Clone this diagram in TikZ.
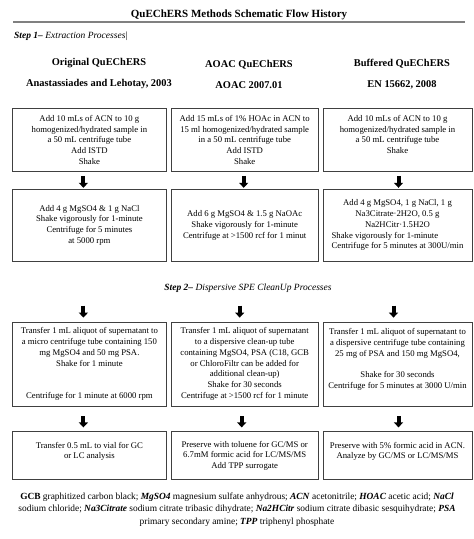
\documentclass[tikz,border=0pt]{standalone}
\usepackage{fontspec}
\setmainfont{Liberation Serif}
\usetikzlibrary{arrows.meta, positioning}

\newcommand{\abbrv}[1]{\textbf{\textit{#1}}}

\begin{document}
\begin{tikzpicture}[
  x=1pt, y=1pt,
  heading/.style={font=\fontsize{11}{13}\selectfont\bfseries},
  colhead/.style={font=\fontsize{10.4}{21}\selectfont\bfseries, align=center},
  steplabel/.style={font=\fontsize{9.5}{11}\selectfont\itshape, inner sep=0pt},
  box/.style={rectangle, draw=black!75, line width=0.8pt, align=center,
              inner xsep=2pt, inner ysep=0pt, font=\fontsize{8.7}{10.8}\selectfont},
  colA/.style={box, minimum width=154pt},
  colB/.style={box, minimum width=147pt},
  colC/.style={box, minimum width=149pt},
  down/.style={-{Triangle[length=5pt,width=9pt]}, line width=4pt, draw=black},
  note/.style={font=\fontsize{9.4}{12.6}\selectfont, align=center},
  node distance=17pt and 4pt
]
  \useasboundingbox (0,0) rectangle (474,-539);

  % title and steps
  \node[heading] (title) at (239,-15) {QuEChERS Methods Schematic Flow History};
  \draw[gray, line width=2pt] (13,-22) -- (465,-22);
  \node[steplabel, anchor=west] (step1) at (14,-36) {\textbf{Step 1–} Extraction Processes|};

  \node[colhead] (hA) at (99,-74) {Original QuEChERS\\Anastassiades and Lehotay, 2003};
  \node[colhead] (hB) at (249,-74) {AOAC QuEChERS\\AOAC 2007.01};
  \node[colhead] (hC) at (402,-74) {Buffered QuEChERS\\EN 15662, 2008};

  % extraction
  \node[colA, minimum height=63pt, anchor=north west] (b11) at (12,-108)
    {Add 10 mLs of ACN to 10 g\\homogenized/hydrated sample in\\a 50 mL centrifuge tube\\Add ISTD\\Shake};
  \node[colB, minimum height=63pt, right=4pt of b11] (b12)
    {Add 15 mLs of 1\% HOAc in ACN to\\15 ml homogenized/hydrated sample\\in a 50 mL centrifuge tube\\Add ISTD\\Shake};
  \node[colC, minimum height=63pt, right=4pt of b12] (b13)
    {Add 10 mLs of ACN to 10 g\\homogenized/hydrated sample in\\a 50 mL centrifuge tube\\Shake\\~};

  \node[colA, minimum height=72pt, below=of b11] (b21)
    {Add 4 g MgSO4 \& 1 g NaCl\\Shake vigorously for 1-minute\\Centrifuge for 5 minutes\\at 5000 rpm};
  \node[colB, minimum height=72pt, below=of b12] (b22)
    {Add 6 g MgSO4 \& 1.5 g NaOAc\\Shake vigorously for 1-minute\\Centrifuge at >1500 rcf for 1 minut};
  \node[colC, minimum height=72pt, below=of b13] (b23)
    {Add 4 g MgSO4, 1 g NaCl, 1 g\\Na3Citrate·2H2O, 0.5 g\\Na2HCitr·1.5H2O\\
     \rlap{Shake vigorously for 1-minute}\phantom{Centrifuge for 5 minutes at 300U/min}\\
     Centrifuge for 5 minutes at 300U/min};

  \node[steplabel] (step2) at (248,-288) {\textbf{Step 2–} Dispersive SPE CleanUp Processes};

  % clean-up
  \node[colA, minimum height=84pt, below=60pt of b21] (b31)
    {Transfer 1 mL aliquot of supernatant to\\a micro centrifuge tube containing 150\\mg MgSO4 and 50 mg PSA.\\Shake for 1 minute\\~\\~\\Centrifuge for 1 minute at 6000 rpm};
  \node[colB, minimum height=84pt, below=60pt of b22] (b32)
    {Transfer 1 mL aliquot of supernatant\\to a dispersive clean-up tube\\containing MgSO4, PSA (C18, GCB\\or ChloroFiltr can be added for\\additional clean-up)\\Shake for 30 seconds\\Centrifuge at >1500 rcf for 1 minute};
  \node[colC, minimum height=84pt, below=60pt of b23] (b33)
    {Transfer 1 mL aliquot of supernatant to\\a dispersive centrifuge tube containing\\25 mg of PSA and 150 mg MgSO4,\\~\\Shake for 30 seconds\\Centrifuge for 5 minutes at 3000 U/min\\~};

  \node[colA, minimum height=48pt, below=25pt of b31] (b41)
    {Transfer 0.5 mL to vial for GC\\or LC analysis\\~};
  \node[colB, minimum height=48pt, below=25pt of b32] (b42)
    {Preserve with toluene for GC/MS or\\6.7mM formic acid for LC/MS/MS\\Add TPP surrogate};
  \node[colC, minimum height=48pt, below=25pt of b33] (b43)
    {Preserve with 5\% formic acid in ACN.\\Analyze by GC/MS or LC/MS/MS\\~};

  \draw[down, shorten <=4pt, shorten >=1pt] ([xshift=-6pt]b11.south) -- ([xshift=-6pt]b21.north);
  \draw[down, shorten <=4pt, shorten >=1pt] ([xshift=-1pt]b12.south) -- ([xshift=-1pt]b22.north);
  \draw[down, shorten <=4pt, shorten >=1pt] ([xshift=1pt]b13.south) -- ([xshift=1pt]b23.north);
  \draw[down, shorten <=44pt, shorten >=4pt] ([xshift=-6pt]b21.south) -- ([xshift=-6pt]b31.north);
  \draw[down, shorten <=44pt, shorten >=4pt] ([xshift=-5pt]b22.south) -- ([xshift=-5pt]b32.north);
  \draw[down, shorten <=44pt, shorten >=4pt] ([xshift=-4pt]b23.south) -- ([xshift=-4pt]b33.north);
  \draw[down, shorten <=10pt, shorten >=4pt] ([xshift=-6pt]b31.south) -- ([xshift=-6pt]b41.north);
  \draw[down, shorten <=10pt, shorten >=4pt] ([xshift=-3pt]b32.south) -- ([xshift=-3pt]b42.north);
  \draw[down, shorten <=10pt, shorten >=4pt] ([xshift=1pt]b33.south) -- ([xshift=1pt]b43.north);

  % legend
  \node[note, anchor=north] (legend) at (237,-489)
    {\textbf{GCB} graphitized carbon black; \abbrv{MgSO4} magnesium sulfate anhydrous; \abbrv{ACN} acetonitrile; \abbrv{HOAC} acetic acid; \abbrv{NaCl}\\
     sodium chloride; \abbrv{Na3Citrate} sodium citrate tribasic dihydrate; \abbrv{Na2HCitr} sodium citrate dibasic sesquihydrate; \abbrv{PSA}\\
     primary secondary amine; \abbrv{TPP} triphenyl phosphate};
\end{tikzpicture}
\end{document}
